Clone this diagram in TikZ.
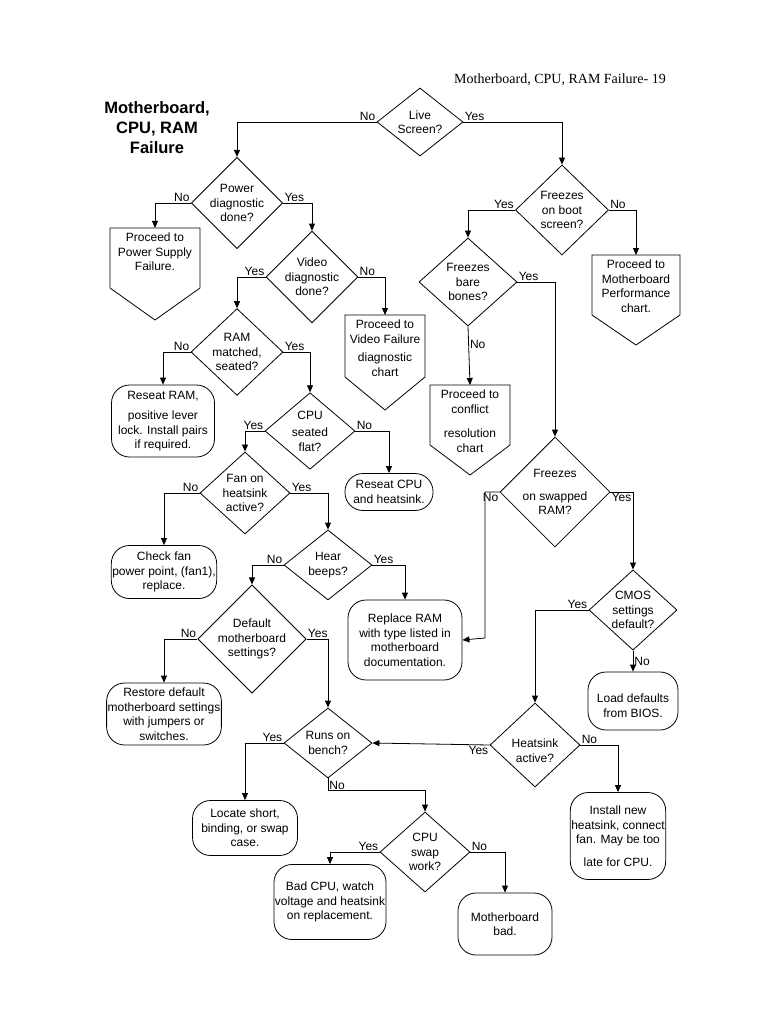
\documentclass[tikz,border=0pt]{standalone}
\usepackage{fontspec}
\setmainfont{Liberation Sans}
\newfontfamily\seriffont{Liberation Serif}
\usetikzlibrary{shapes.geometric,arrows.meta}
\newcommand\offpg[7]{%
  \draw[line width=0.8pt] (#2-#4/2,#3) -- (#2+#4/2,#3) -- (#2+#4/2,#3+#5) -- (#2,#3+#5+#6) -- (#2-#4/2,#3+#5) -- cycle;
  \node[align=center,anchor=north,inner sep=0pt] (#1) at (#2,#3+5) {#7};
  \coordinate (#1top) at (#2,#3);}
\begin{document}
\begin{tikzpicture}[x=1pt,y=-1pt,
  font=\fontsize{12}{14.5}\selectfont,
  dia/.style={diamond,draw,line width=0.8pt,inner sep=0pt,align=center,minimum width=#1},
  term/.style={draw,line width=0.8pt,rounded corners=18pt,align=center,inner sep=1pt},
  ln/.style={draw,line width=0.8pt},
  arr/.style={ln,-{Triangle[length=7pt,width=6pt]}},
  lab/.style={inner sep=1pt,font=\fontsize{12}{14}\selectfont}]
\useasboundingbox (0,0) rectangle (768,1024);
\node[font=\seriffont\fontsize{14}{16}\selectfont] (hdr) at (560,80) {Motherboard, CPU, RAM Failure- 19};
\node[font=\bfseries\fontsize{16.5}{20}\selectfont,align=center] (ttl) at (157,128) {Motherboard,\\CPU, RAM\\Failure};
% diamonds
\node[dia=86pt,minimum height=54pt] (live) at (420,122) {Live\\Screen?};
\node[dia=90pt,minimum height=80pt] (pwr) at (237,203) {Power\\diagnostic\\done?};
\node[dia=88pt,minimum height=80pt] (vid) at (312,277) {Video\\diagnostic\\done?};
\node[dia=92pt,minimum height=80pt] (ram) at (237,352) {RAM\\matched,\\seated?};
\node[dia=90pt,minimum height=68pt] (cpu) at (310,431) {CPU\\[3pt]seated\\flat?};
\node[dia=90pt,minimum height=70pt] (fan) at (245,493) {Fan on\\heatsink\\active?};
\node[dia=88pt,minimum height=70pt] (hear) at (328,565) {Hear\\beeps?};
\node[dia=96pt,minimum height=82pt] (def) at (252,639) {Default\\motherboard\\settings?};
\node[dia=88pt,minimum height=70pt] (runs) at (328,743) {Runs on\\bench?};
\node[dia=90pt,minimum height=80pt] (swap) at (425,852) {CPU\\swap\\work?};
\node[dia=90pt,minimum height=84pt] (heat) at (535,745) {\\[6pt]Heatsink\\active?};
\node[dia=93pt,minimum height=90pt] (boot) at (562,210) {Freezes\\on boot\\screen?};
\node[dia=98pt,minimum height=88pt] (bare) at (468,282) {Freezes\\bare\\bones?};
\node[dia=90pt,minimum height=80pt] (sram) at (555,492) {Freezes\\[8pt]on swapped\\RAM?};
\node[dia=88pt,minimum height=80pt] (cmos) at (633,610) {CMOS\\settings\\default?};
% off-page connectors
\offpg{ps}{155}{228}{90}{60}{32}{Proceed to\\Power Supply\\Failure.}
\offpg{vf}{385}{315}{80}{62}{33}{Proceed to\\Video Failure\\[4pt]diagnostic\\chart}
\offpg{cr}{470}{385}{80}{60}{30}{Proceed to\\conflict\\[10pt]resolution\\chart}
\offpg{mp}{636}{255}{88}{60}{30}{Proceed to\\Motherboard\\Performance\\chart.}
% terminals
\node[term,minimum width=103pt,minimum height=72pt] (rr) at (163,421) {Reseat RAM,\\[6pt]positive lever\\lock. Install pairs\\if required.};
\node[term,minimum width=88pt,minimum height=37pt] (rc) at (389,492) {Reseat CPU\\and heatsink.};
\node[term,minimum width=98pt,minimum height=53pt] (cf) at (164,572) {Check fan\\power point, (fan1),\\replace.};
\node[term,minimum width=114pt,minimum height=80pt] (rpl) at (405,640) {Replace RAM\\with type listed in\\motherboard\\documentation.};
\node[term,minimum width=102pt,minimum height=62pt] (rd) at (164,714) {Restore  default\\motherboard settings\\with jumpers or\\switches.};
\node[term,minimum width=90pt,minimum height=58pt] (ld) at (633,701) {\\[4pt]Load defaults\\from BIOS.};
\node[term,minimum width=105pt,minimum height=55pt] (ls) at (245,828) {Locate short,\\binding, or swap\\case.};
\node[term,minimum width=93pt,minimum height=87pt] (inh) at (618,836) {Install new\\heatsink, connect\\fan. May be too\\[8pt]late for CPU.};
\node[term,minimum width=110pt,minimum height=75pt] (bc) at (330,902) {Bad CPU, watch\\voltage and heatsink\\on replacement.};
\node[term,minimum width=94pt,minimum height=62pt] (mb) at (505,924) {Motherboard\\bad.};
% connectors
\draw[arr] (live.west) node[lab,above left]{No} -| (pwr.north);
\draw[arr] (live.east) node[lab,above right]{Yes} -| (boot.north);
\draw[arr] (pwr.west) node[lab,above left]{No} -| (pstop);
\draw[arr] (pwr.east) node[lab,above right]{Yes} -| (vid.north);
\draw[arr] (vid.west) node[lab,above left]{Yes} -| (ram.north);
\draw[arr] (vid.east) node[lab,above right]{No} -| (vftop);
\draw[arr] (ram.west) node[lab,above left]{No} -| (rr.north);
\draw[arr] (ram.east) node[lab,above right]{Yes} -| (cpu.north);
\draw[arr] (cpu.west) node[lab,above left]{Yes} -| (fan.north);
\draw[arr] (cpu.east) node[lab,above right]{No} -| (rc.north);
\draw[arr] (fan.west) node[lab,above left]{No} -| (cf.north);
\draw[arr] (fan.east) node[lab,above right]{Yes} -| (hear.north);
\draw[arr] (hear.west) node[lab,above left]{No} -| (def.north);
\draw[arr] (hear.east) node[lab,above right]{Yes} -| (rpl.north);
\draw[arr] (def.west) node[lab,above left]{No} -| (rd.north);
\draw[arr] (def.east) node[lab,above right]{Yes} -| (runs.north);
\draw[arr] (runs.west) node[lab,above left]{Yes} -| (ls.north);
\coordinate (rb) at (328,790);
\draw[arr] (runs.south) -- (rb) node[lab,right,pos=0.6]{No} -| (swap.north);
\draw[arr] (swap.west) node[lab,above left]{Yes} -| (bc.north);
\draw[arr] (swap.east) node[lab,above right]{No} -| (mb.north);
\draw[arr] (boot.west) node[lab,above left]{Yes} -| (bare.north);
\draw[arr] (boot.east) node[lab,above right]{No} -| (mptop);
\draw[arr] (bare.south) -- (crtop) node[lab,pos=0.3,right]{No};
\draw[arr] (bare.east) node[lab,above right]{Yes} -| (sram.north);
\coordinate (sl) at (485,638);
\draw[arr] (sram.west) node[lab,below left]{No} -| (sl) -- (rpl.east);
\draw[arr] (sram.east) node[lab,below right]{Yes} -| (cmos.north);
\draw[arr] (cmos.west) node[lab,above left]{Yes} -| (heat.north);
\draw[arr] (cmos.south) -- (ld.north) node[lab,pos=0.5,right]{No};
\draw[arr] (heat.west) node[lab,below left]{Yes} -- (runs.east);
\draw[arr] (heat.east) node[lab,above right]{No} -| (inh.north);
\end{tikzpicture}
\end{document}
